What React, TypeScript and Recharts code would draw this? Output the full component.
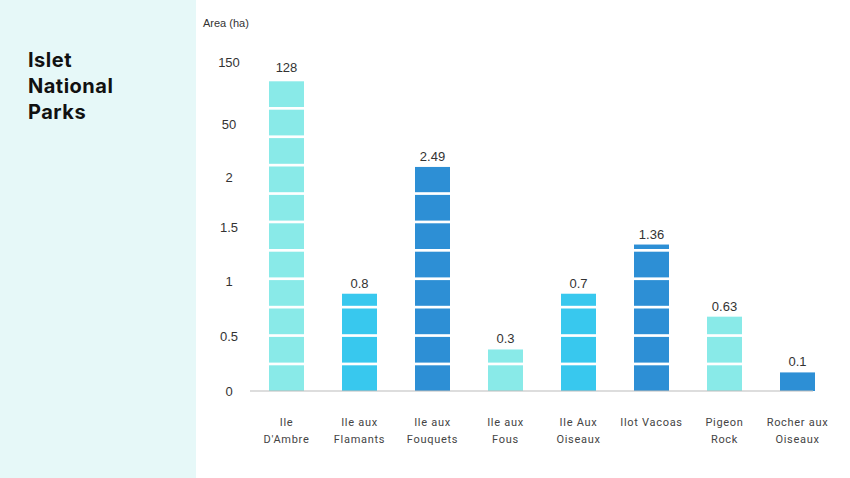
import { BarChart, Bar, XAxis, YAxis, LabelList, Cell } from "recharts";

// park names (line break = second label line)
const parks = [
  "Ile\nD'Ambre",
  "Ile aux\nFlamants",
  "Ile aux\nFouquets",
  "Ile aux\nFous",
  "Ile Aux\nOiseaux",
  "Ilot Vacoas",
  "Pigeon\nRock",
  "Rocher aux\nOiseaux",
];

// area in hectares, as labelled above the bars
const areaHa = [128, 0.8, 2.49, 0.3, 0.7, 1.36, 0.63, 0.1];

// height of each bar as drawn on the (broken) axis, in axis units
const barLevel = [2.86, 0.89, 2.05, 0.38, 0.89, 1.34, 0.68, 0.17];

// broken y axis: label and where it sits on the axis
const tickLabels = ["0", "0.5", "1", "1.5", "2", "50", "150"];
const tickLevels = [0, 0.5, 1, 1.5, 1.95, 2.44, 3.01];

const barColors = [
  "#89EAE8",
  "#38C8EE",
  "#2D8FD5",
  "#89EAE8",
  "#38C8EE",
  "#2D8FD5",
  "#89EAE8",
  "#2D8FD5",
];

const data = parks.map((name, i) => ({
  name,
  level: barLevel[i],
  area: areaHa[i],
}));

const SEG_PITCH = 28.4;
const SEG_GAP = 2.7;

function SegmentedBar(props: any) {
  const { x, y, width, height, fill } = props;
  if (!height || height <= 0) return null;
  const bottom = y + height;
  const rects = [];
  for (let i = 0; bottom - i * SEG_PITCH > y + 0.5; i++) {
    const segBottom = bottom - i * SEG_PITCH;
    const segTop = Math.max(y, bottom - (i + 1) * SEG_PITCH + SEG_GAP);
    rects.push(
      <rect
        key={i}
        x={x}
        y={segTop}
        width={width}
        height={segBottom - segTop}
        fill={fill}
      />
    );
  }
  return <g>{rects}</g>;
}

function YTick(props: any) {
  const { x, y, payload } = props;
  const idx = tickLevels.indexOf(payload.value);
  return (
    <text
      x={x - 13}
      y={y}
      textAnchor="middle"
      dominantBaseline="central"
      fontFamily="'Liberation Sans', Arial, sans-serif"
      fontSize={13}
      fill="#333"
    >
      {tickLabels[idx]}
    </text>
  );
}

function XTick(props: any) {
  const { x, y, payload } = props;
  const lines = String(payload.value).split("\n");
  return (
    <text
      x={x}
      y={y}
      textAnchor="middle"
      fontFamily="Roboto, sans-serif"
      fontSize={11}
      letterSpacing={0.7}
      fill="#444"
    >
      {lines.map((l, i) => (
        <tspan key={i} x={x} dy={i === 0 ? 27 : 17}>
          {l}
        </tspan>
      ))}
    </text>
  );
}

export default function App() {
  return (
    <div
      style={{
        position: "relative",
        width: 850,
        height: 478,
        overflow: "hidden",
        background: "#fff",
      }}
    >
      <style>{`body{margin:0}`}</style>
      <div
        style={{
          position: "absolute",
          left: 0,
          top: 0,
          width: 196,
          height: 478,
          background: "#E6F8F8",
        }}
      />
      <div
        style={{
          position: "absolute",
          left: 28,
          top: 47,
          fontFamily: "Inter, sans-serif",
          fontWeight: 700,
          fontSize: 20,
          letterSpacing: 0.5,
          lineHeight: "26px",
          color: "#111",
        }}
      >
        Islet
        <br />
        National
        <br />
        Parks
      </div>
      <div
        style={{
          position: "absolute",
          left: 203,
          top: 17,
          fontFamily: "'Liberation Sans', Arial, sans-serif",
          fontSize: 11,
          color: "#333",
        }}
      >
        Area (ha)
      </div>
      <div style={{ position: "absolute", left: 0, top: 0 }}>
        <BarChart
          width={850}
          height={478}
          data={data}
          margin={{ top: 50, right: 37, bottom: 27, left: 200 }}
        >
          <XAxis
            dataKey="name"
            interval={0}
            height={60}
            padding={{ left: 0, right: -21 }}
            tickLine={false}
            axisLine={{ stroke: "#bbb" }}
            tick={<XTick />}
          />
          <YAxis
            type="number"
            domain={[0, 3.12]}
            ticks={tickLevels}
            width={50}
            axisLine={false}
            tickLine={false}
            tick={<YTick />}
          />
          <Bar
            dataKey="level"
            barSize={35}
            isAnimationActive={false}
            shape={(p: any) => <SegmentedBar {...p} />}
          >
            {data.map((_, i) => (
              <Cell key={i} fill={barColors[i]} />
            ))}
            <LabelList
              dataKey="area"
              position="top"
              offset={6}
              fontFamily="'Liberation Sans', Arial, sans-serif"
              fontSize={13}
              fill="#333"
            />
          </Bar>
        </BarChart>
      </div>
    </div>
  );
}
